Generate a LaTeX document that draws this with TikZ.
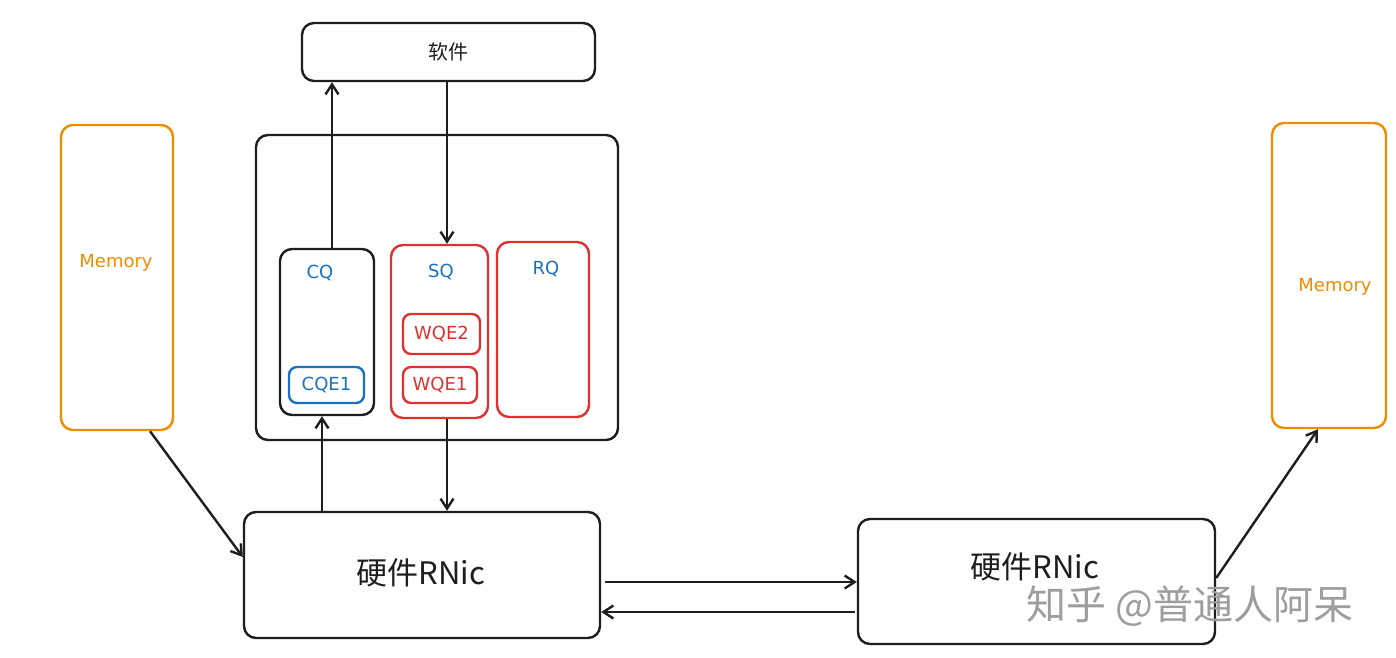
\documentclass[tikz,border=0pt]{standalone}
\usepackage{fontspec}
\setmainfont{DejaVu Sans}
\newfontfamily\cjk{Noto Sans CJK SC}
\usetikzlibrary{arrows.meta}
\definecolor{exblue}{HTML}{1971C2}
\definecolor{exred}{HTML}{E03131}
\definecolor{exorange}{HTML}{F08C00}
\definecolor{exink}{HTML}{1E1E1E}
\tikzset{
  box/.style={draw=exink, line width=2.4pt, rounded corners=12pt, inner sep=0pt},
  redbox/.style={box, draw=exred},
  bluebox/.style={box, draw=exblue},
  membox/.style={box, draw=exorange},
  lbl/.style={font=\fontsize{18}{18}\selectfont, text=exblue},
  memlbl/.style={font=\fontsize{18}{18}\selectfont, text=exorange},
  rnlbl/.style={font=\cjk\fontsize{31}{31}\selectfont, text=exink},
  conn/.style={draw=exink, line width=2.4pt, -{Straight Barb[length=10pt,width=13pt,line width=2.4pt]}},
}
\begin{document}
\begin{tikzpicture}[x=1pt,y=-1pt]
\useasboundingbox[fill=white] (0,0) rectangle (1396,657);
% boxes
\node[box, minimum width=293pt, minimum height=58pt, font=\cjk\fontsize{20}{20}\selectfont, text=exink] (sw) at (448.5,52) {软件};
\node[box, minimum width=362pt, minimum height=305pt] (outer) at (437,287.5) {};
\node[box, minimum width=94pt, minimum height=166pt] (cq) at (327,332) {};
\node[lbl] (cqt) at (320,273) {CQ};
\node[bluebox, minimum width=75pt, minimum height=36pt, rounded corners=8pt, lbl] (cqe1) at (326.5,385) {CQE1};
\node[redbox, minimum width=97pt, minimum height=173pt] (sq) at (439.5,331.5) {};
\node[lbl] (sqt) at (441,272) {SQ};
\node[redbox, minimum width=77pt, minimum height=40pt, rounded corners=8pt, lbl, text=exred] (wqe2) at (441.5,334) {WQE2};
\node[redbox, minimum width=74pt, minimum height=36pt, rounded corners=8pt, lbl, text=exred] (wqe1) at (440,385) {WQE1};
\node[redbox, minimum width=92pt, minimum height=175pt] (rq) at (543,329.5) {};
\node[lbl] (rqt) at (546,269) {RQ};
\node[membox, minimum width=112pt, minimum height=305pt] (meml) at (117,277.5) {};
\node[memlbl] (memlt) at (116,263) {Memory};
\node[membox, minimum width=114pt, minimum height=305pt] (memr) at (1329,275.5) {};
\node[memlbl] (memrt) at (1335,287) {Memory};
\node[box, minimum width=356pt, minimum height=126pt] (rn1) at (422,575) {};
\node[rnlbl] (rn1t) at (421,573) {硬件RNic};
\node[box, minimum width=357pt, minimum height=125pt] (rn2) at (1036.5,581.5) {};
\node[rnlbl] (rn2t) at (1035,567) {硬件RNic};
% connectors
\path[conn] (cq.north -| 332,0) -- (sw.south -| 332,0);
\path[conn] (sw.south -| 447,0) -- (sq.north -| 447,0);
\path[conn] (rn1.north -| 322,0) -- (cq.south -| 322,0);
\path[conn] (sq.south -| 447,0) -- (rn1.north -| 447,0);
\path[conn] (meml.south -| 150,0) -- (rn1.west |- 0,557);
\path[conn] (rn1.east |- 0,582) ++(4,0) -- (rn2.west |- 0,582);
\path[conn] (rn2.west |- 0,612) ++(-2,0) -- (rn1.east |- 0,612);
\path[conn] (rn2.east |- 0,578) -- (memr.south -| 1318,0);
% watermark
\node[font=\cjk\fontsize{40}{40}\selectfont, text=black!38] (wm) at (1190,606) {知乎 @普通人阿呆};
\end{tikzpicture}
\end{document}
